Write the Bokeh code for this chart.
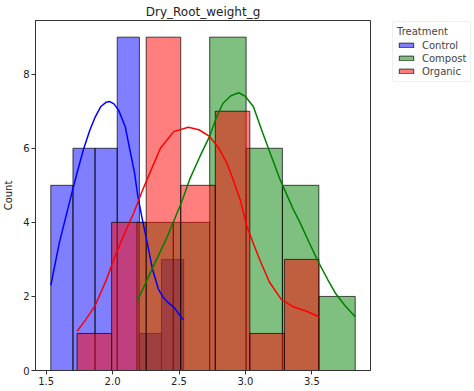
from bokeh.plotting import figure
from bokeh.models import Range1d, Legend, LegendItem, FixedTicker
from bokeh.embed import file_html
from bokeh.resources import INLINE

# Histogram bins (edges) and counts
control_edges = [1.535, 1.702, 1.868, 2.035, 2.202, 2.368, 2.535]
control_counts = [5, 6, 6, 9, 1, 3]
compost_edges = [2.183, 2.457, 2.731, 3.005, 3.278, 3.552, 3.826]
compost_counts = [4, 4, 9, 6, 5, 2]
organic_edges = [1.733, 1.993, 2.253, 2.513, 2.773, 3.033, 3.293, 3.553]
organic_counts = [1, 4, 9, 5, 7, 1, 3]

# KDE curves (count scale)
control_kde_x = [1.535, 1.60, 1.68, 1.73, 1.78, 1.83, 1.87, 1.91, 1.95, 1.98, 2.01, 2.045, 2.095, 2.13, 2.165, 2.19, 2.22, 2.26, 2.30, 2.345, 2.38, 2.41, 2.44, 2.47, 2.50, 2.535]
control_kde_y = [2.3, 3.46, 4.6, 5.3, 5.96, 6.5, 6.85, 7.12, 7.24, 7.26, 7.2, 7.03, 6.59, 5.96, 5.34, 4.71, 4.15, 3.46, 2.74, 2.2, 1.98, 1.86, 1.77, 1.67, 1.52, 1.36]
compost_kde_x = [2.183, 2.28, 2.41, 2.52, 2.58, 2.66, 2.73, 2.78, 2.83, 2.89, 2.95, 3.0, 3.06, 3.13, 3.19, 3.26, 3.36, 3.41, 3.48, 3.55, 3.62, 3.68, 3.75, 3.826]
compost_kde_y = [1.85, 2.61, 3.6, 4.55, 5.16, 5.8, 6.32, 6.82, 7.21, 7.42, 7.5, 7.4, 7.12, 6.41, 5.83, 5.16, 4.35, 4.0, 3.45, 2.92, 2.45, 2.07, 1.75, 1.45]
organic_kde_x = [1.733, 1.80, 1.87, 1.95, 2.03, 2.10, 2.16, 2.22, 2.28, 2.36, 2.46, 2.57, 2.65, 2.73, 2.80, 2.86, 2.91, 2.96, 3.01, 3.06, 3.11, 3.18, 3.27, 3.36, 3.46, 3.553]
organic_kde_y = [1.06, 1.38, 1.76, 2.42, 3.19, 3.78, 4.26, 4.82, 5.33, 6.0, 6.45, 6.57, 6.5, 6.32, 6.0, 5.6, 5.13, 4.62, 3.9, 3.42, 2.97, 2.39, 1.92, 1.72, 1.6, 1.45]

x_ticks = [1.5, 2.0, 2.5, 3.0, 3.5]
y_ticks = [0, 2, 4, 6, 8]

p = figure(frame_width=335, frame_height=350,
           x_range=Range1d(1.42, 3.941), y_range=Range1d(0, 9.45),
           output_backend="svg", toolbar_location=None,
           title="Dry_Root_weight_g",
           min_border_left=0, min_border_right=100, min_border_top=0, min_border_bottom=0)

p.title.align = "center"
p.title.text_font = "DejaVu Sans"
p.title.text_font_size = "12px"
p.title.text_font_style = "normal"
p.title.text_color = "#222222"
p.title.standoff = 4

p.grid.visible = False
p.outline_line_color = "#333333"
p.outline_line_width = 1

for ax in (p.xaxis[0], p.yaxis[0]):
    ax.axis_line_color = "#333333"
    ax.major_tick_line_color = "#333333"
    ax.major_tick_in = 0
    ax.major_tick_out = 4
    ax.minor_tick_line_color = None
    ax.major_label_text_font = "DejaVu Sans"
    ax.major_label_text_font_size = "10px"
    ax.major_label_text_color = "#222222"
    ax.major_label_standoff = 2

p.xaxis.ticker = FixedTicker(ticks=x_ticks)
p.yaxis.ticker = FixedTicker(ticks=y_ticks)
p.xaxis.major_label_overrides = {1.5: "1.5", 2.0: "2.0", 2.5: "2.5", 3.0: "3.0", 3.5: "3.5"}
p.yaxis.axis_label = "Count"
p.yaxis.axis_label_text_font = "DejaVu Sans"
p.yaxis.axis_label_text_font_size = "10px"
p.yaxis.axis_label_text_font_style = "normal"
p.yaxis.axis_label_text_color = "#222222"
p.yaxis.axis_label_standoff = 6


def hist(edges, counts, color):
    return p.quad(left=edges[:-1], right=edges[1:], bottom=[0] * len(counts), top=counts,
                  fill_color=color, fill_alpha=0.5, line_color="black", line_alpha=0.7, line_width=1)


r_control = hist(control_edges, control_counts, "blue")
r_compost = hist(compost_edges, compost_counts, "green")
r_organic = hist(organic_edges, organic_counts, "red")

p.line(control_kde_x, control_kde_y, line_color="blue", line_width=1.5)
p.line(compost_kde_x, compost_kde_y, line_color="green", line_width=1.5)
p.line(organic_kde_x, organic_kde_y, line_color="red", line_width=1.5)

legend = Legend(items=[LegendItem(label="Control", renderers=[r_control]),
                       LegendItem(label="Compost", renderers=[r_compost]),
                       LegendItem(label="Organic", renderers=[r_organic])],
                title="Treatment", location=(22, 288))
legend.title_text_font = "DejaVu Sans"
legend.title_text_font_size = "10px"
legend.title_text_font_style = "normal"
legend.title_text_align = "center"
legend.title_standoff = 2
legend.label_text_font = "DejaVu Sans"
legend.label_text_font_size = "10px"
legend.label_height = 12
legend.label_standoff = 7
legend.glyph_width = 18
legend.glyph_height = 6
legend.spacing = 1
legend.padding = 4
legend.margin = 0
legend.border_line_color = "#dddddd"
legend.border_radius = 3
p.add_layout(legend, "right")

open("out.html", "w").write(file_html(p, INLINE))
